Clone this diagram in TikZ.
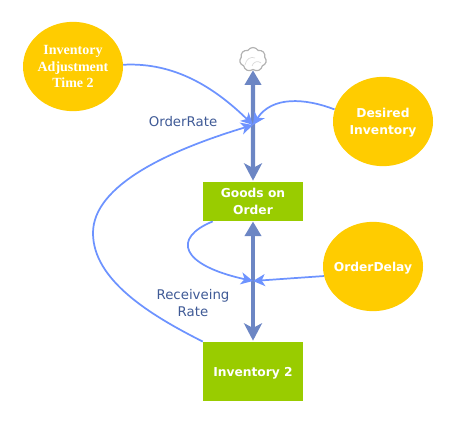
\documentclass[tikz,border=0pt]{standalone}
\usepackage{fontspec}
\setmainfont{DejaVu Sans}
\newfontfamily\serifbold{Liberation Serif}[BoldFont={Liberation Serif Bold}]
\usetikzlibrary{arrows.meta,shapes.geometric,shapes.symbols}
\definecolor{stockgreen}{HTML}{99CC00}
\definecolor{auxyellow}{HTML}{FFCC00}
\definecolor{pipeblue}{HTML}{6C86C4}
\definecolor{linkblue}{HTML}{6D93FF}
\definecolor{textblue}{HTML}{3F5A96}
\tikzset{
  stock/.style={fill=stockgreen, text=white, font=\fontsize{9.2pt}{12.7pt}\selectfont\bfseries, text depth=0pt, align=center, minimum width=75pt, inner sep=0pt},
  aux/.style={ellipse, fill=auxyellow, text=white, font=\fontsize{9.2pt}{12.7pt}\selectfont\bfseries, text depth=0pt, align=center, minimum width=75pt, minimum height=67pt, inner sep=0pt},
  pipe/.style={draw=pipeblue, line width=3.3pt, {Triangle[length=11pt,width=12pt]}-{Stealth[length=13pt,width=13.5pt,inset=3.5pt]}},
  link/.style={draw=linkblue, line width=1.3pt, -{Stealth[length=9pt,width=9pt,inset=2.5pt]}},
  flowtext/.style={text=textblue, font=\fontsize{10pt}{12.7pt}\selectfont, align=center}
}
\begin{document}
\begin{tikzpicture}[x=0.75pt, y=-0.75pt]
\useasboundingbox (0,0) rectangle (457,424);
% Stocks and auxiliaries
\node[stock, minimum height=29.5pt] (goods) at (253,201.5) {Goods on\\Order};
\node[stock, minimum height=44.5pt] (inventory) at (253,371.5) {Inventory 2};
\node[aux, font=\fontsize{10.5pt}{12.7pt}\selectfont\serifbold\bfseries, text depth=] (adjust) at (73,66.5) {\makebox[0pt]{Inventory}\\\makebox[0pt]{Adjustment}\\\makebox[0pt]{Time 2}};
\node[aux] (desired) at (383,121.5) {Desired\\Inventory};
\node[aux] (delay) at (373,266.5) {\makebox[0pt]{OrderDelay}};
% Source cloud
\node[cloud, cloud puffs=7, cloud puff arc=120, aspect=1.1, draw=black!30, fill=white, line width=0.9pt, minimum width=20pt, minimum height=18pt, inner sep=0pt] (cloud) at (253,59.5) {};
\draw[black!15, line width=0.5pt] (245,65) .. controls (246,59) and (251,56) .. (255,58);
\draw[black!15, line width=0.5pt] (252,66) .. controls (253,62) and (258,60) .. (261,63);
% Flows
\coordinate (ordervalve) at (253,125);
\coordinate (receivevalve) at (253,281);
\draw[pipe] (cloud.south) -- ([yshift=0.7pt]goods.north);
\draw[pipe] (goods.south) -- ([yshift=0.7pt]inventory.north);
% Links
\draw[link] (adjust.2) .. controls (175,62) and (215,88) .. (ordervalve);
\draw[link] (desired.166) .. controls (305,98) and (272,96) .. (ordervalve);
\draw[link] (inventory.north west) .. controls (150,315) and (93,280) .. (93,233) .. controls (93,185) and (170,150) .. (ordervalve);
\draw[link] ([xshift=7.5pt]goods.south west) .. controls (172,238) and (180,265) .. (receivevalve);
\draw[link] (delay.191) -- (receivevalve);
% Flow names
\node[flowtext] (orderrate) at (183,122) {OrderRate};
\node[flowtext] (receiverate) at (193,303) {Receiveing\\Rate};
\end{tikzpicture}
\end{document}
